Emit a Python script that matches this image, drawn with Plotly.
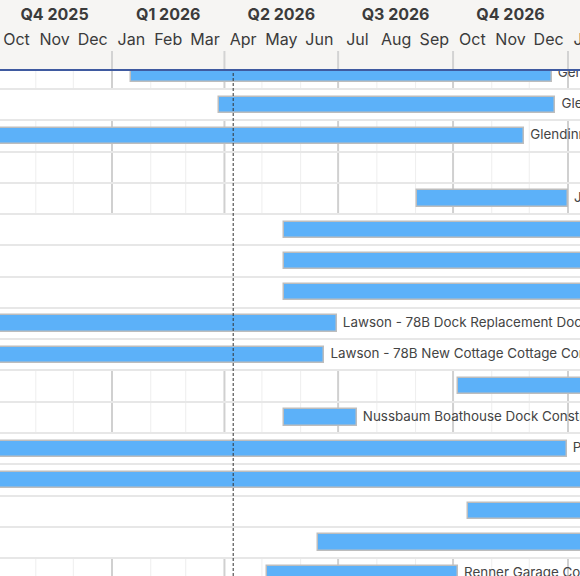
import pandas as pd
import plotly.graph_objects as go

# --- data --------------------------------------------------------------
task_names = [
    "Gentile Cottage Addition",
    "Glendinning Boathouse Construction",
    "Glendinning Cottage Renovation",
    "Hartley Cottage Renovation",
    "Jansen Dock Replacement",
    "Kerr Cottage Construction",
    "Kerr Garage Construction",
    "Kerr Dock Construction",
    "Lawson - 78B Dock Replacement Dock Construction",
    "Lawson - 78B New Cottage Cottage Construction",
    "Mackay Boathouse Renovation",
    "Nussbaum Boathouse Dock Construction",
    "Pearce Cottage Construction",
    "Pearce Dock Construction",
    "Quinn Boathouse Construction",
    "Quinn Cottage Construction",
    "Renner Garage Construction",
]
task_starts = [
    "2026-01-16", "2026-03-28", "2025-08-01", None, "2026-09-02",
    "2026-05-19", "2026-05-19", "2026-05-19", "2025-07-01", "2025-07-01",
    "2026-10-05", "2026-05-19", "2025-06-01", "2025-06-01", "2026-10-13",
    "2026-06-15", "2026-05-05",
]
task_ends = [
    "2026-12-19", "2026-12-22", "2026-11-27", None, "2027-01-01",
    "2027-03-31", "2027-03-31", "2027-03-31", "2026-06-30", "2026-06-20",
    "2027-04-30", "2026-07-16", "2026-12-31", "2027-06-30", "2027-05-31",
    "2027-05-31", "2026-10-05",
]
# rows where the vertical grid is drawn in the reference
grid_rows = [0, 2, 3, 4, 10, 11, 16]

quarter_labels = ["Q4 2025", "Q1 2026", "Q2 2026", "Q3 2026", "Q4 2026"]
quarter_starts = ["2025-10-01", "2026-01-01", "2026-04-01", "2026-07-01", "2026-10-01", "2027-01-01"]
month_labels = ["Oct", "Nov", "Dec", "Jan", "Feb", "Mar", "Apr", "May", "Jun",
                "Jul", "Aug", "Sep", "Oct", "Nov", "Dec", "Jan"]
month_starts = pd.date_range("2025-10-01", "2027-02-01", freq="MS")
today = "2026-04-08"
view_range = ["2025-10-03 08:00", "2027-01-10 15:00"]

# --- styling ------------------------------------------------------------
BAR_FILL = "#5cb1f9"
BAR_EDGE = "#bdbdbd"
HEAD_BG = "#f6f5f3"
TEXT = "#3b3b3b"
FONT = "Inter"
HEAD_FRAC = (576 - 70) / 576
ROW_PX = 31.27

fig = go.Figure()

rows = list(range(len(task_names)))
bar_rows, bar_base, bar_len, lab_x, lab_text = [], [], [], [], []
for r, s, e, n in zip(rows, task_starts, task_ends, task_names):
    if s is None:
        continue
    s, e = pd.Timestamp(s), pd.Timestamp(e)
    bar_rows.append(r)
    bar_base.append(s)
    bar_len.append((e - s).total_seconds() * 1000)
    lab_x.append(e)
    lab_text.append(n)

fig.add_trace(go.Bar(
    y=bar_rows, base=bar_base, x=bar_len, orientation="h", width=0.52,
    marker=dict(color=BAR_FILL, line=dict(color=BAR_EDGE, width=1.5)),
    hoverinfo="skip", xaxis="x", yaxis="y",
))
# invisible markers just push the label a few px away from the bar end
fig.add_trace(go.Scatter(
    x=lab_x, y=bar_rows, text=lab_text, mode="markers+text", textposition="middle right",
    marker=dict(size=8, opacity=0),
    textfont=dict(family=FONT, size=13.4, color="#444444"), hoverinfo="skip",
    cliponaxis=True, xaxis="x", yaxis="y",
))

# header texts (header subplot y in pixels from its bottom, 0..70)
q_mid = [pd.Timestamp(a) + (pd.Timestamp(b) - pd.Timestamp(a)) / 2
         for a, b in zip(quarter_starts[:-1], quarter_starts[1:])]
m_mid = [a + (b - a) / 2 for a, b in zip(month_starts[:-1], month_starts[1:])]
fig.add_trace(go.Scatter(
    x=q_mid, y=[54] * len(q_mid), text=quarter_labels, mode="text",
    textfont=dict(family=FONT, size=16, color=TEXT, weight="bold"),
    hoverinfo="skip", xaxis="x2", yaxis="y2",
))
fig.add_trace(go.Scatter(
    x=m_mid, y=[29] * len(m_mid), text=month_labels, mode="text",
    textfont=dict(family=FONT, size=16, color=TEXT),
    hoverinfo="skip", xaxis="x2", yaxis="y2",
))

shapes = []
# header background and bottom rule
shapes.append(dict(type="rect", xref="paper", yref="paper", x0=0, x1=1, y0=HEAD_FRAC, y1=1,
                   fillcolor=HEAD_BG, line_width=0, layer="below"))
# quarter separators in the header
for q in quarter_starts:
    shapes.append(dict(type="line", xref="x2", yref="y2", x0=q, x1=q, y0=0, y1=19,
                       line=dict(color="#d3d3d3", width=2)))
# vertical grid, only on some rows
q_set = set(pd.Timestamp(q) for q in quarter_starts)
for r in grid_rows:
    for m in month_starts:
        quarter = m in q_set
        shapes.append(dict(type="line", xref="x", yref="y", x0=m, x1=m,
                           y0=r - 0.5, y1=r + 0.5, layer="below",
                           line=dict(color="#d0d0d0" if quarter else "#eeeeee",
                                     width=2 if quarter else 1)))
shapes.append(dict(type="line", xref="paper", yref="paper", x0=0, x1=1,
                   y0=HEAD_FRAC, y1=HEAD_FRAC, line=dict(color="#3f5aa0", width=2)))
# today marker
shapes.append(dict(type="line", xref="x", yref="paper", x0=today, x1=today,
                   y0=0, y1=HEAD_FRAC - 0.003, line=dict(color="#333333", width=1, dash="3px,2px")))

y_top = -3.4 / ROW_PX
y_bottom = y_top + 506 / ROW_PX
fig.update_layout(
    width=580, height=576, margin=dict(l=0, r=0, t=0, b=0),
    paper_bgcolor="white", plot_bgcolor="rgba(0,0,0,0)",
    showlegend=False, bargap=0, shapes=shapes,
    xaxis=dict(type="date", range=view_range, showgrid=False, showticklabels=False,
               zeroline=False, showline=False, fixedrange=True),
    xaxis2=dict(type="date", matches="x", anchor="y2", showgrid=False, showticklabels=False,
                zeroline=False, showline=False, fixedrange=True),
    yaxis=dict(domain=[0, HEAD_FRAC], range=[y_bottom, y_top],
               tickvals=[r + 0.5 for r in range(-1, len(task_names))],
               showticklabels=False, ticks="", showgrid=True, gridcolor="#e7e7e7", gridwidth=1.5,
               zeroline=False, fixedrange=True),
    yaxis2=dict(domain=[HEAD_FRAC, 1], range=[0, 70], showgrid=False, showticklabels=False,
                zeroline=False, fixedrange=True),
)

fig.write_html(
    "out.html",
    config={"displayModeBar": False},
    post_script="document.body.style.margin='0';document.body.style.overflow='hidden';",
)
